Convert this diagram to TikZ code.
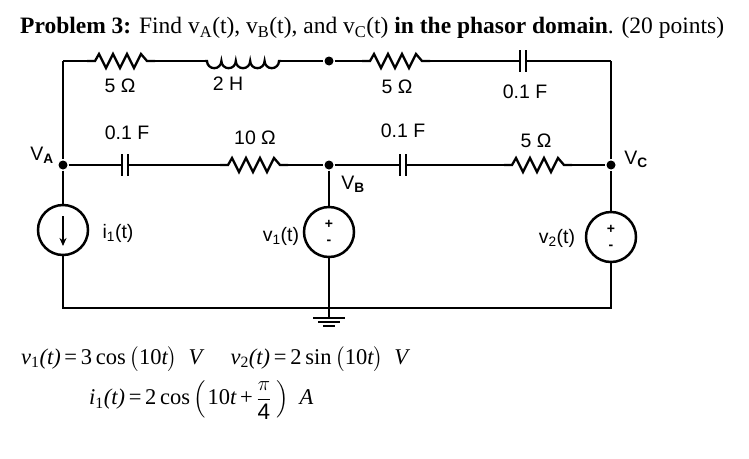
\documentclass[tikz,border=0pt]{standalone}
\usetikzlibrary{arrows.meta}
\usepackage{fontspec}
\setmainfont{Liberation Serif}
\newfontfamily\arial{Liberation Sans}
\usepackage{amsmath}
\newcommand{\fsA}{\fontsize{19.5}{22}\selectfont}
\newcommand{\fsT}{\fontsize{23.5}{26}\selectfont}
\newcommand{\fsE}{\fontsize{22.5}{26}\selectfont}
\begin{document}
\begin{tikzpicture}[x=1pt,y=-1pt,line width=2.3pt,
  lbl/.style={inner sep=1pt},
  dot/.style={circle,fill,inner sep=0pt,minimum size=9pt},
  src/.style={circle,draw,line width=2.5pt,minimum size=50pt,inner sep=0pt},
  pm/.style={font=\arial\bfseries\fontsize{14}{14}\selectfont},
  pics/res/.style={code={\draw (-34,0)--(-26,0)--(-22,-7)--(-15,7)--(-8,-7)--(-1,7)--(6,-7)--(13,7)--(20,-7)--(26,0)--(34,0);}},
  pics/cap/.style={code={\draw (-3,-11)--(-3,11) (3,-11)--(3,11);}},
  pics/ind/.style={code={\draw (-38,0)--(-36,0) \foreach \i in {0,...,4}{ arc[start angle=180,end angle=0,radius=7.2] } -- (38,0);}}]
\useasboundingbox (0,0) rectangle (749,458);
% nodes
\coordinate (tl) at (63,61); \coordinate (tr) at (611,61);
\node[dot] (A) at (63,165) {}; \node[dot] (B) at (329,165) {}; \node[dot] (C) at (611,165) {};
\node[dot] (T) at (329,61) {};
\coordinate (bl) at (63,308); \coordinate (bm) at (329,308); \coordinate (br) at (611,308);
\node[src] (I1) at (63,230) {}; \node[src] (V1) at (329,232) {}; \node[src] (V2) at (611,237) {};
% top branch
\draw (tl)--(88,61); \pic at (121,61) {res}; \draw (155,61)--(205,61);
\pic at (243,61) {ind}; \draw (281,61)--(T)--(362,61);
\pic at (396,61) {res}; \draw (430,61)--(520,61); \pic at (523,61) {cap}; \draw (526,61)--(tr);
% middle branch
\draw (A)--(122,165); \pic at (125,165) {cap}; \draw (128,165)--(220,165);
\pic at (254,165) {res}; \draw (288,165)--(B)--(400,165); \pic at (403,165) {cap};
\draw (406,165)--(504,165); \pic at (538,165) {res}; \draw (572,165)--(C);
% verticals
\draw (tl)--(A)--(I1.north); \draw (I1.south)--(bl)--(br)--(V2.south);
\draw (V2.north)--(C)--(tr);
\draw (B)--(V1.north); \draw (V1.south)--(bm)--(329,318);
\draw (313,318)--(345,318) (318,322)--(340,322) (323,326)--(335,326);
\draw[-{Stealth[length=8pt,width=7pt]}] (63,216)--(63,246);
\node[pm] at (329,224) {+}; \node[pm] at (329,242) {-};
\node[pm] at (611,229) {+}; \node[pm] at (611,247) {-};
% labels
\node[lbl] (l1) at (120,86) {\arial\fsA 5 Ω}; \node[lbl] (l2) at (228,84) {\arial\fsA 2 H};
\node[lbl] (l3) at (397,87) {\arial\fsA 5 Ω}; \node[lbl] (l4) at (525,92) {\arial\fsA 0.1 F};
\node[lbl] (l5) at (127,133) {\arial\fsA 0.1 F}; \node[lbl] (l6) at (255,138) {\arial\fsA 10 Ω};
\node[lbl] (l7) at (403,131) {\arial\fsA 0.1 F}; \node[lbl] (l8) at (536,141) {\arial\fsA 5 Ω};
\node[lbl] (la) at (42,155) {\arial\fsA V\textsubscript{\bfseries A}}; \node[lbl] (lb) at (353,184) {\arial\fsA V\textsubscript{\bfseries B}};
\node[lbl] (lc) at (636,159) {\arial\fsA V\textsubscript{\bfseries C}};
\node[lbl] (li) at (118,233) {\arial\fsA i\textsubscript{1}(t)}; \node[lbl] (lv1) at (281,236) {\arial\fsA v\textsubscript{1}(t)};
\node[lbl] (lv2) at (557,238) {\arial\fsA v\textsubscript{2}(t)};
% title
\node[anchor=west,inner sep=0] (title) at (19,28)
 {\fsT\textbf{Problem 3:} Find v\textsubscript{A}(t), v\textsubscript{B}(t), and v\textsubscript{C}(t) \textbf{in the phasor domain}. (20 points)};
\node[anchor=west,inner sep=0] (eq1) at (20,359)
 {\fsE\itshape v\textsubscript{\upshape1}(t)\,\upshape=\,3\,cos\,$\bigl($10\itshape t\upshape$\bigr)$\ \ \itshape V\quad\ v\textsubscript{\upshape2}(t)\,\upshape=\,2\,sin\,$\bigl($10\itshape t\upshape$\bigr)$\ \ \itshape V};
\node[anchor=west,inner sep=0] (eq2) at (88,400)
 {\fsE\itshape i\textsubscript{\upshape1}(t)\,\upshape=\,2\,cos\,$\left(\vphantom{\dfrac{\pi}{4}}\right.$10\itshape t\,\upshape+\,$\dfrac{\pi}{\text{\upshape\arial 4}}\left.\vphantom{\dfrac{\pi}{4}}\right)$\ \ \itshape A};
\end{tikzpicture}
\end{document}
